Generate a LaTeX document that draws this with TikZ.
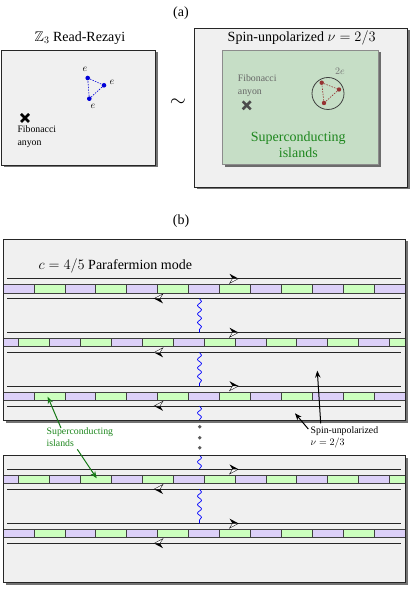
\documentclass[tikz,border=0pt]{standalone}
\usepackage{amssymb}
\usepackage{fontspec}
\setmainfont{Liberation Serif}
\usetikzlibrary{shadows,decorations.pathmorphing,arrows.meta}
\definecolor{bggray}{RGB}{240,240,240}
\definecolor{cellpurple}{RGB}{220,208,248}
\definecolor{cellgreen}{RGB}{204,255,190}
\definecolor{islandgreen}{RGB}{198,222,198}
\definecolor{textgreen}{RGB}{30,135,30}
\definecolor{arrowgreen}{RGB}{20,120,20}
\definecolor{dotred}{RGB}{150,50,50}
\tikzset{
  panelshadow/.style={drop shadow={shadow xshift=2.5pt,shadow yshift=-2.5pt,fill=black,opacity=0.55}},
  panel/.style={fill=bggray,panelshadow},
  panelborder/.style={draw=black!85,line width=0.8pt},
  big/.style={font=\fontsize{14}{16}\selectfont},
  small/.style={font=\fontsize{9.8}{12.5}\selectfont},
  edge/.style={line width=0.85pt,black!85},
  cellborder/.style={draw=black!75,line width=0.6pt},
  wave/.style={blue,line width=0.7pt,decorate,decoration={snake,segment length=8.5pt,amplitude=2pt}},
  halfhead/.pic={
    \fill[black] (4.5,0) -- (-4.5,-4.8) -- (-1.5,0) -- cycle;
    \filldraw[fill=white,draw=black,line width=0.35pt] (4.5,0) -- (-4.5,4.8) -- (-1.5,0) -- cycle;
  },
  edot/.style={circle,fill=blue!85!black,inner sep=0pt,minimum size=4.6pt},
  rdot/.style={circle,fill=dotred,inner sep=0pt,minimum size=4.4pt},
  pointer/.style={-{Stealth[length=7pt,width=5.5pt]},line width=1pt},
}
\begin{document}
\begin{tikzpicture}[x=1pt,y=-1pt]
\useasboundingbox (0,0) rectangle (415,593);

% ---------------- (a) ----------------
\node[big] (la) at (181,13) {(a)};
\node[big] (rrtitle) at (80,38) {$\mathbb{Z}_3$ Read-Rezayi};
\path[panel] (1.5,50) rectangle (155,165);
\draw[panelborder] (1.5,50) rectangle (155,165);

\node[edot] (e1) at (87.7,78) {};
\node[edot] (e2) at (104,85.3) {};
\node[edot] (e3) at (89.3,98.7) {};
\draw[blue!85!black,line width=0.6pt,dash pattern=on 1.5pt off 1.2pt] (e1) -- (e2) -- (e3) -- (e1);
\node[small] (le1) at (85,69) {$e$};
\node[small] (le2) at (112,82) {$e$};
\node[small] (le3) at (93,106) {$e$};

\draw[line width=2.6pt,black] (21,114) -- (29,122) (21,122) -- (29,114);
\node[small,anchor=north west,align=left,inner sep=0pt] (fib1) at (17.3,126) {Fibonacci\\anyon};

\node[font=\fontsize{20}{20}\selectfont] (tilde) at (178,103) {$\sim$};

\path[panel] (194,28) rectangle (407.7,187);
\draw[panelborder] (194,28) rectangle (407.7,187);
\node[big] (sutitle) at (301.7,38) {Spin-unpolarized $\nu=2/3$};
\path[fill=islandgreen,panelshadow] (222.7,50) rectangle (378.3,164.3);
\draw[black!45,line width=0.6pt] (222.7,50) rectangle (378.3,164.3);

\node[small,black!60,anchor=north west,align=left,inner sep=0pt] (fib2) at (237.7,75) {Fibonacci\\anyon};
\draw[line width=2.6pt,black!70] (242.7,101.3) -- (250.7,109.3) (242.7,109.3) -- (250.7,101.3);

\node[circle,draw=black!75,line width=0.8pt,minimum size=32pt,inner sep=0pt] (ring) at (328,93.5) {};
\node[rdot] (d1) at (321.7,82.7) {};
\node[rdot] (d2) at (339,89.5) {};
\node[rdot] (d3) at (324,103) {};
\draw[dotred,line width=0.6pt,dash pattern=on 1.5pt off 1.2pt] (d1) -- (d2) -- (d3) -- (d1);
\node[small,black!55] (twoe) at (340,71) {$2e$};

\node[big,textgreen,align=center] (sci1) at (298.3,144.5) {Superconducting\\islands};

% ---------------- (b) ----------------
\node[big] (lb) at (181,221) {(b)};

\path[panel] (3,239) rectangle (405,420.7);
\path[panel] (3,455) rectangle (405,582.3);

\begin{scope}
\clip (3,0) rectangle (405,593);
\foreach \yc/\off in {288.6/0, 342.5/1, 396/0, 479.2/1, 533.4/0} {
  \foreach \k in {0,...,13} {
    \pgfmathsetmacro\xa{3+30.92*\k-15.46*\off}
    \pgfmathsetmacro\xb{\xa+30.92}
    \ifodd\k \def\cc{cellgreen}\else\def\cc{cellpurple}\fi
    \path[fill=\cc,cellborder] (\xa,\yc-4.2) rectangle (\xb,\yc+4.2);
  }
}
\end{scope}

\foreach \yc in {288.6, 342.5, 396, 479.2, 533.4} {
  \draw[edge] (7,\yc-10) -- (401,\yc-10);
  \draw[edge] (7,\yc+10) -- (401,\yc+10);
  \pic at (234,\yc-10) {halfhead};
  \pic[rotate=180] at (158.5,\yc+10) {halfhead};
}

\draw[wave] (199.5,298.6) -- (199.5,332.5);
\draw[wave] (199.5,352.5) -- (199.5,386);
\draw[wave] (199.5,406) -- (199.5,420.7);
\draw[wave] (199.5,455) -- (199.5,469.2);
\draw[wave] (199.5,489.2) -- (199.5,523.4);

\draw[panelborder] (3,239) rectangle (405,420.7);
\draw[panelborder] (3,455) rectangle (405,582.3);

\foreach \yy in {426.7,437.7,447.7} \fill[black!65] (199.7,\yy) circle (1.9pt);

\node[big,anchor=west] (cpf) at (35,265.7) {$c=4/5$ Parafermion mode};

% annotations
\node[small,textgreen,anchor=north west,align=left,inner sep=0pt] (scilab) at (46.5,427) {Superconducting\\islands};
\coordinate (gs1) at (61,428);
\coordinate (gt1) at (47.7,396.7);
\coordinate (gs2) at (77.3,449.3);
\coordinate (gt2) at (96.7,478.3);
\draw[pointer,arrowgreen] (gs1) -- (gt1);
\draw[pointer,arrowgreen] (gs2) -- (gt2);

\node[small,anchor=north west,align=left,inner sep=0pt] (sulab) at (310.5,426) {Spin-unpolarized\\$\nu=2/3$};
\coordinate (bs1) at (320.7,423.3);
\coordinate (bt1) at (317.3,370.7);
\coordinate (bs2) at (308.3,429);
\coordinate (bt2) at (295,413.3);
\draw[pointer] (bs1) -- (bt1);
\draw[pointer] (bs2) -- (bt2);
\end{tikzpicture}
\end{document}
